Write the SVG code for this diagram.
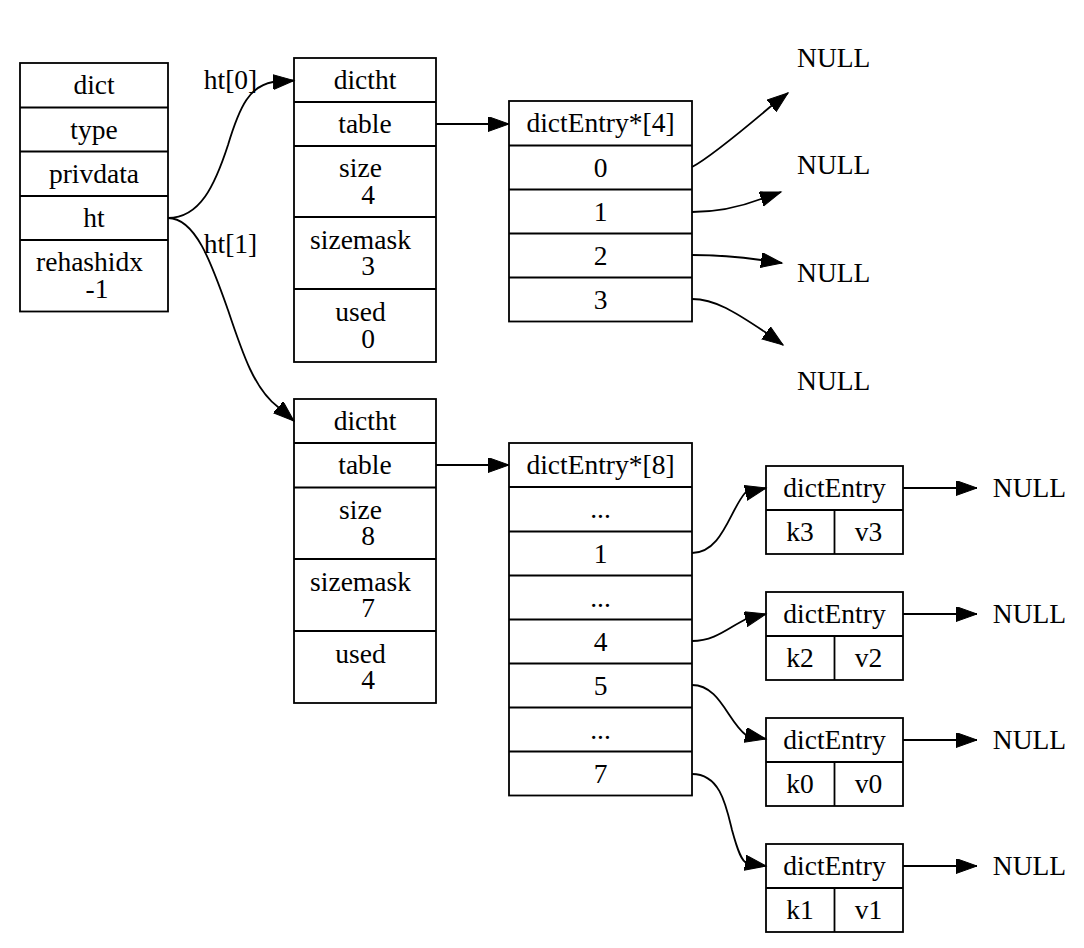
<svg xmlns="http://www.w3.org/2000/svg" width="1084" height="948" viewBox="0 0 1084 948">
<style>
.box{fill:#fff;stroke:#000;stroke-width:1.8}
.div{stroke:#000;stroke-width:1.8;fill:none}
.t{font-family:"Liberation Serif","Times New Roman",serif;font-size:27.5px;fill:#000;text-anchor:middle}
.e{fill:none;stroke:#000;stroke-width:1.8;marker-end:url(#arr)}
</style>
<defs>
<marker id="arr" markerUnits="userSpaceOnUse" markerWidth="23" markerHeight="17" refX="21" refY="7.5" orient="auto">
<path d="M0,0 L21,7.5 L0,15 z" fill="#000" stroke="#000" stroke-width="1"/>
</marker>
</defs>
<rect width="1084" height="948" fill="#fff"/>

<g id="dict">
<rect class="box" x="20" y="63" width="148" height="248.5"/>
<path class="div" d="M20,107.5H168M20,151.5H168M20,196H168M20,240H168"/>
<text class="t" x="94" y="94.3">dict</text>
<text class="t" x="94" y="138.5">type</text>
<text class="t" x="94" y="182.8">privdata</text>
<text class="t" x="94" y="227">ht</text>
<text class="t" y="271"><tspan x="89.5">rehashidx</tspan><tspan x="97" y="298">-1</tspan></text>
</g>

<g id="dictht0">
<rect class="box" x="294" y="58" width="142" height="304"/>
<path class="div" d="M294,102H436M294,146H436M294,217H436M294,289H436"/>
<text class="t" x="365" y="89">dictht</text>
<text class="t" x="365" y="133">table</text>
<text class="t" y="177"><tspan x="360.5">size</tspan><tspan x="368" y="203.5">4</tspan></text>
<text class="t" y="248.5"><tspan x="360.5">sizemask</tspan><tspan x="368" y="275">3</tspan></text>
<text class="t" y="321"><tspan x="360.5">used</tspan><tspan x="368" y="347.5">0</tspan></text>
</g>

<g id="dictht1">
<rect class="box" x="294" y="399" width="142" height="304"/>
<path class="div" d="M294,443H436M294,487.5H436M294,559H436M294,631H436"/>
<text class="t" x="365" y="430">dictht</text>
<text class="t" x="365" y="474">table</text>
<text class="t" y="518.7"><tspan x="360.5">size</tspan><tspan x="368" y="545.2">8</tspan></text>
<text class="t" y="590.5"><tspan x="360.5">sizemask</tspan><tspan x="368" y="617">7</tspan></text>
<text class="t" y="662.5"><tspan x="360.5">used</tspan><tspan x="368" y="689">4</tspan></text>
</g>

<g id="table0">
<rect class="box" x="509" y="101" width="183" height="220.5"/>
<path class="div" d="M509,145.5H692M509,189.5H692M509,233.5H692M509,277.5H692"/>
<text class="t" x="600.5" y="132.3">dictEntry*[4]</text>
<text class="t" x="600.5" y="176.5">0</text>
<text class="t" x="600.5" y="220.5">1</text>
<text class="t" x="600.5" y="264.5">2</text>
<text class="t" x="600.5" y="308.5">3</text>
</g>

<g id="table1">
<rect class="box" x="509" y="443" width="183" height="352.5"/>
<path class="div" d="M509,487H692M509,531.5H692M509,575.5H692M509,619.5H692M509,663.5H692M509,707.5H692M509,751.5H692"/>
<text class="t" x="600.5" y="474">dictEntry*[8]</text>
<text class="t" x="600.5" y="518">...</text>
<text class="t" x="600.5" y="562.5">1</text>
<text class="t" x="600.5" y="606.5">...</text>
<text class="t" x="600.5" y="650.5">4</text>
<text class="t" x="600.5" y="694.5">5</text>
<text class="t" x="600.5" y="738.5">...</text>
<text class="t" x="600.5" y="782.5">7</text>
</g>

<g id="entry_k3">
<rect class="box" x="766" y="466" width="137" height="88"/>
<path class="div" d="M766,510H903M834.5,510V554"/>
<text class="t" x="834.5" y="497">dictEntry</text>
<text class="t" x="800" y="541">k3</text>
<text class="t" x="868.5" y="541">v3</text>
</g>
<g id="entry_k2">
<rect class="box" x="766" y="592" width="137" height="88"/>
<path class="div" d="M766,636H903M834.5,636V680"/>
<text class="t" x="834.5" y="623">dictEntry</text>
<text class="t" x="800" y="667">k2</text>
<text class="t" x="868.5" y="667">v2</text>
</g>
<g id="entry_k0">
<rect class="box" x="766" y="718" width="137" height="88"/>
<path class="div" d="M766,762H903M834.5,762V806"/>
<text class="t" x="834.5" y="749">dictEntry</text>
<text class="t" x="800" y="793">k0</text>
<text class="t" x="868.5" y="793">v0</text>
</g>
<g id="entry_k1">
<rect class="box" x="766" y="844" width="137" height="88"/>
<path class="div" d="M766,888H903M834.5,888V932"/>
<text class="t" x="834.5" y="875">dictEntry</text>
<text class="t" x="800" y="919">k1</text>
<text class="t" x="868.5" y="919">v1</text>
</g>

<g id="null_a"><text class="t" x="833.7" y="66.7">NULL</text></g>
<g id="null_b"><text class="t" x="833.7" y="174.3">NULL</text></g>
<g id="null_c"><text class="t" x="833.7" y="281.7">NULL</text></g>
<g id="null_d"><text class="t" x="833.7" y="390">NULL</text></g>
<g id="null_e"><text class="t" x="1029.5" y="497">NULL</text></g>
<g id="null_f"><text class="t" x="1029.5" y="623">NULL</text></g>
<g id="null_g"><text class="t" x="1029.5" y="749">NULL</text></g>
<g id="null_h"><text class="t" x="1029.5" y="875">NULL</text></g>

<g id="connectors">
<path class="e" d="M168,218 C200,218 215,185 228,145 C240,105 250,86 273,82 L294,80.5"/>
<path class="e" d="M168,218 C196,218 212,265 228,310 C243,355 255,390 278,407 L294,421"/>
<text class="t" x="230.5" y="89">ht[0]</text>
<text class="t" x="230.5" y="253">ht[1]</text>
<path class="e" d="M436,124 L509,124"/>
<path class="e" d="M436,465 L509,465"/>
<path class="e" d="M692,167 C705,160 725,145 770,107 L788,93"/>
<path class="e" d="M692,212 C720,212 740,207 761,199 L781,192"/>
<path class="e" d="M692,255 C720,255 740,257 761,260 L782,263"/>
<path class="e" d="M692,299 C715,299 735,312 765,332 L783,345"/>
<path class="e" d="M692,553 C722,553 730,510 745,493 L766,488"/>
<path class="e" d="M692,641 C715,641 728,628 746,619 L766,614"/>
<path class="e" d="M692,685 C720,685 728,722 746,735 L766,739"/>
<path class="e" d="M692,774 C720,774 726,805 732,830 C738,852 742,862 747,863 L766,866"/>
<path class="e" d="M903,488 L977,488"/>
<path class="e" d="M903,614 L977,614"/>
<path class="e" d="M903,740 L977,740"/>
<path class="e" d="M903,866 L977,866"/>
</g>
</svg>
